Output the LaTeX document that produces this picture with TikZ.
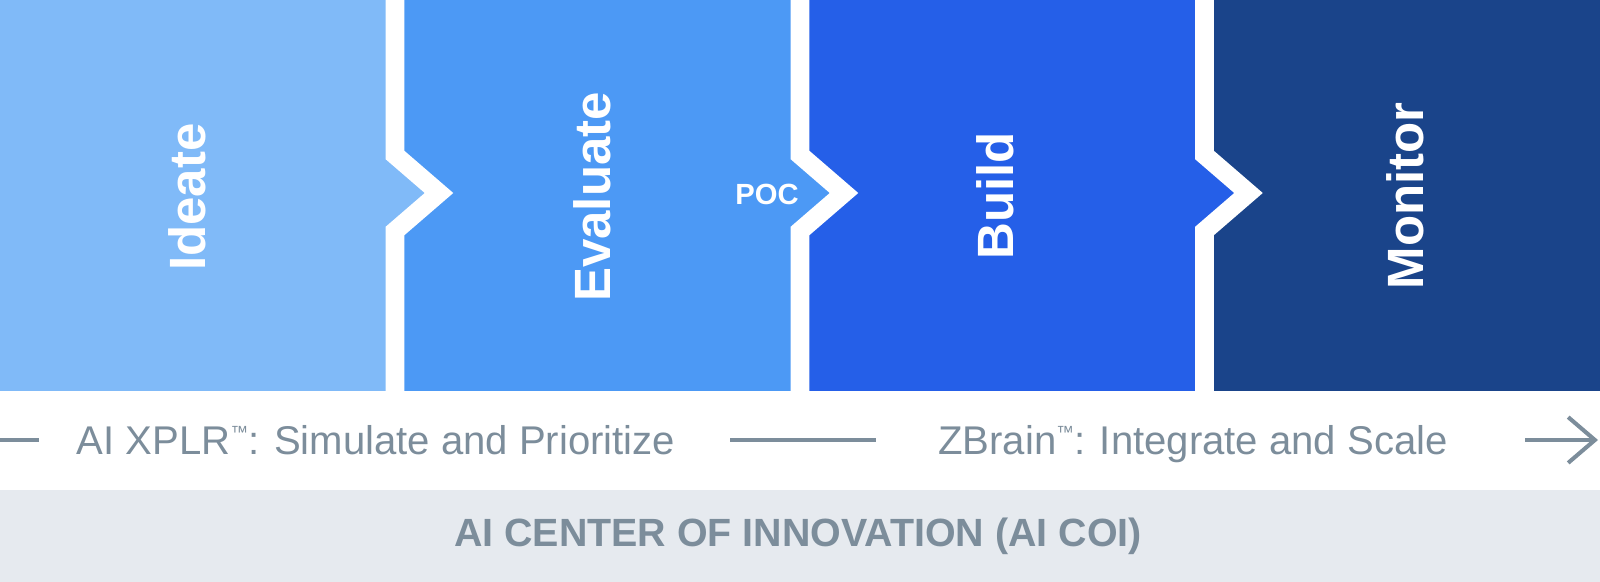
\documentclass[tikz,border=0pt]{standalone}
\usepackage{fontspec}
\setmainfont{Liberation Sans}
\usetikzlibrary{arrows.meta}

\definecolor{ideatecol}{RGB}{128,186,248}
\definecolor{evalcol}{RGB}{76,153,245}
\definecolor{buildcol}{RGB}{37,95,232}
\definecolor{monitorcol}{RGB}{26,68,138}
\definecolor{slate}{RGB}{124,141,155}
\definecolor{barbg}{RGB}{230,234,239}

\tikzset{
    phase/.style={rotate=90,text=white,font=\fontsize{14.5}{14.5}\selectfont\bfseries},
    pocbox/.style={text=white,font=\fontsize{8.3}{8.3}\selectfont\bfseries},
    flowtext/.style={anchor=base,text=slate,font=\fontsize{11.4}{11.4}\selectfont},
    flowline/.style={draw=slate,line width=1.15pt},
    divider/.style={draw=white,line width=5.3pt,miter limit=10},
    coibox/.style={anchor=base,text=slate,font=\fontsize{11.2}{11.2}\selectfont\bfseries}
}
\newcommand{\tmark}{\raisebox{4.4pt}{\fontsize{5}{5}\selectfont ™}}

\begin{document}
\begin{tikzpicture}[x=0.01cm,y=-0.01cm]
    \useasboundingbox (0,0) rectangle (1600,582);

    % phase blocks
    \foreach \x/\nx/\c in {0/395/ideatecol,395/800/evalcol,800/1204.5/buildcol,1204.5/1600/monitorcol} {
        \fill[\c] (\x,0) rectangle (\nx,391);
    }
    \foreach \x/\c in {395/ideatecol,800/evalcol,1204.5/buildcol} {
        \fill[\c] (\x,155) -- ++(44,38) -- ++(-44,38) -- cycle;
    }
    \foreach \x in {395,800,1204.5} {
        \draw[divider] (\x,-5) -- (\x,155) -- ++(44,38) -- ++(-44,38) -- (\x,396);
    }

    \node[phase] (ideate) at (187,197) {Ideate};
    \node[phase] (evaluate) at (592,197) {Evaluate};
    \node[phase] (build) at (995,196) {Build};
    \node[phase] (monitor) at (1405,196) {Monitor};
    \node[pocbox] (poc) at (767,194) {POC};

    % flow line
    \node[flowtext] (xplr) at (376,454) {AI XPLR\tmark: Simulate and Prioritize};
    \node[flowtext] (zbrain) at (1193,454) {ZBrain\tmark: Integrate and Scale};
    \coordinate (lineA) at (0,440);
    \coordinate (lineB) at (39,440);
    \coordinate (lineC) at (730,440);
    \coordinate (lineD) at (876,440);
    \coordinate (lineE) at (1525,440);
    \coordinate (lineF) at (1598,440);
    \draw[flowline] (lineA) -- (lineB);
    \draw[flowline] (lineC) -- (lineD);
    \draw[flowline,-{Straight Barb[length=7.6pt,width=13pt]}] (lineE) -- (lineF);

    % bottom bar
    \fill[barbg] (0,490) rectangle (1600,582);
    \node[coibox] (coi) at (798,546) {AI CENTER OF INNOVATION (AI COI)};
\end{tikzpicture}
\end{document}
